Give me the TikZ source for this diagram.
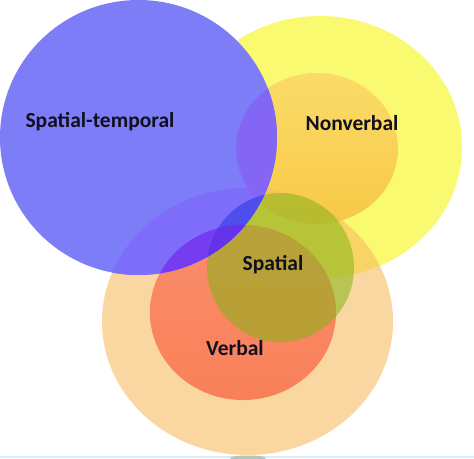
\documentclass[tikz,border=0pt]{standalone}
\usepackage{fontspec}
\setmainfont{Carlito}
\definecolor{cYel}{RGB}{250,250,112}
\definecolor{cNonTop}{RGB}{250,220,105}
\definecolor{cNonBot}{RGB}{248,200,70}
\definecolor{cOut}{RGB}{247,188,97}
\definecolor{cRedTop}{RGB}{250,142,108}
\definecolor{cRedBot}{RGB}{248,128,88}
\definecolor{cGrn}{RGB}{125,183,14}
\definecolor{cBlu}{RGB}{125,125,248}
\definecolor{cBluOut}{RGB}{126,108,250}
\definecolor{cBluNon}{RGB}{132,102,245}
\definecolor{cBluRed}{RGB}{118,60,240}
\definecolor{cBluGrn}{RGB}{78,78,238}
\definecolor{cBluGrnRed}{RGB}{100,50,232}
\definecolor{cStrip}{RGB}{215,238,248}
\definecolor{cBlob}{RGB}{178,198,190}
\definecolor{cTxt}{RGB}{16,16,32}
\tikzset{
  circB/.style={insert path={(138.5,137.5) ellipse [x radius=138.5, y radius=137.5]}},
  circY/.style={insert path={(320,147) ellipse [x radius=142, y radius=131]}},
  circN/.style={insert path={(317,148.5) ellipse [x radius=81, y radius=75.5]}},
  circO/.style={insert path={(247.5,321.5) ellipse [x radius=145.5, y radius=133.5]}},
  circR/.style={insert path={(243,312.5) ellipse [x radius=93, y radius=87.5]}},
  circG/.style={insert path={(280.5,267.5) ellipse [x radius=73.5, y radius=74.5]}},
  lbl/.style={font=\fontsize{21.5}{24}\selectfont\bfseries, text=cTxt, inner sep=0pt}
}
\begin{document}
\begin{tikzpicture}[x=1pt,y=-1pt]
\useasboundingbox (0,0) rectangle (474,458);
\fill[white] (0,0) rectangle (474,458);
% yellow (nonverbal outer)
\fill[cYel,circY];
\shade[top color=cNonTop,bottom color=cNonBot,circN];
% outer orange (verbal outer)
\fill[cOut,fill opacity=0.6,circO];
% red (verbal inner)
\shade[top color=cRedTop,bottom color=cRedBot,circR];
% green (spatial)
\fill[cGrn,fill opacity=0.52,circG];
% blue (spatial-temporal) and its overlaps
\fill[cBlu,circB];
\begin{scope}
  \clip[circB];
  \fill[cBluOut,circO];
  \fill[cBluNon,circN];
  \fill[cBluRed,circR];
  \fill[cBluGrn,circG];
  \clip[circG];
  \fill[cBluGrnRed,circR];
\end{scope}
% bottom strip
\fill[cStrip] (0,455.5) rectangle (474,458);
\fill[cBlob] (248,458) ellipse [x radius=18, y radius=2.5];
% labels
\node[lbl] (st) at (100,122) {Spatial-temporal};
\node[lbl] (nv) at (352,123) {Nonverbal};
\node[lbl] (sp) at (273,265) {Spatial};
\node[lbl] (vb) at (235,348) {Verbal};
\end{tikzpicture}
\end{document}
